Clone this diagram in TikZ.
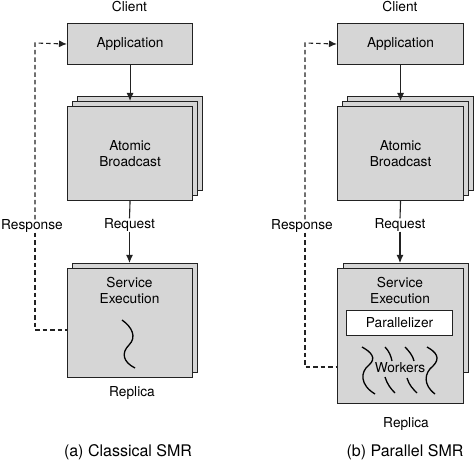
\documentclass[tikz,border=0pt]{standalone}
\usepackage{fontspec}
\setmainfont{TeX Gyre Heros}
\usetikzlibrary{arrows.meta}
\definecolor{boxgray}{HTML}{D6D6D6}
\definecolor{edge}{HTML}{222222}
\begin{document}
\begin{tikzpicture}[x=1pt,y=-1pt,
  box/.style={draw=edge,line width=1.1pt,fill=boxgray,inner sep=0pt,anchor=north west,
    font=\fontsize{13.7}{16}\selectfont,align=center},
  lbl/.style={font=\fontsize{13.7}{16}\selectfont,inner sep=0pt,align=center},
  captext/.style={font=\fontsize{16}{19}\selectfont,inner sep=0pt},
  conn/.style={line width=1.1pt,draw=edge},
  tip/.style={-{Latex[length=8pt,width=7pt]}},
  arr/.style={conn,tip},
  resp/.style={conn,dash pattern=on 4.5pt off 3pt},
  wave/.style={line width=1.3pt,draw=black}
]
\useasboundingbox (0,0) rectangle (474,462);

% ---------------- (a) Classical SMR ----------------
\node[lbl] (client1) at (129.5,7) {Client};
\node[box,minimum width=125pt,minimum height=41pt] (app1) at (67,23) {Application};
\node[box,minimum width=125pt,minimum height=94pt] (ab1c) at (77,96) {};
\node[box,minimum width=125pt,minimum height=94pt] (ab1b) at (72,101) {};
\node[box,minimum width=125pt,minimum height=94pt] (ab1) at (67,106) {Atomic\\Broadcast};
\node[lbl] (req1) at (129.5,225) {Request};
\node[box,minimum width=125pt,minimum height=109pt] (se1b) at (72,263) {};
\node[box,minimum width=125pt,minimum height=109pt] (se1) at (67,268) {};
\node[lbl] (set1) at (129.5,290) {Service\\Execution};
\draw[wave] (122,320) .. controls (132,327) and (137,337) .. (129,345)
  .. controls (121,353) and (123,362) .. (135,368);
\node[lbl] (rep1) at (132,393) {Replica};
\node[captext] (cap1) at (128,452) {(a) Classical SMR};
\node[lbl] (resp1) at (32,226) {Response};

\draw[arr] (app1.south) -- (app1.south |- ab1b.north);
\draw[conn] (ab1.south) -- (req1.north);
\draw[arr] (req1.south) -- (req1.south |- se1b.north);
\coordinate (r1a) at (35,43);
\coordinate (r1b) at (35,330);
\draw[resp,tip] (resp1.north -| r1a) -- (r1a) -- (app1.west);
\draw[resp] (resp1.south -| r1b) -- (r1b) -- (r1b -| se1.west);

% ---------------- (b) Parallel SMR ----------------
\node[lbl] (client2) at (400,7) {Client};
\node[box,minimum width=126pt,minimum height=41pt] (app2) at (337,23) {Application};
\node[box,minimum width=126pt,minimum height=94pt] (ab2c) at (347,96) {};
\node[box,minimum width=126pt,minimum height=94pt] (ab2b) at (342,101) {};
\node[box,minimum width=126pt,minimum height=94pt] (ab2) at (337,106) {Atomic\\Broadcast};
\node[lbl] (req2) at (400,225) {Request};
\node[box,minimum width=125pt,minimum height=109pt] (se2b) at (343,263) {};
\node[box,minimum width=126pt,minimum height=135pt] (se2) at (337,268) {};
\node[lbl] (set2) at (400,290) {Service\\Execution};
\node[box,fill=white,minimum width=106pt,minimum height=25pt] (par) at (346,310) {Parallelizer};
\draw[wave] (362,347) .. controls (371,352) and (377,358) .. (369,365)
  .. controls (360,372) and (360,385) .. (375,394);
\draw[wave] (385,347) .. controls (389,351) and (391,356) .. (392,361);
\draw[wave] (385,377) .. controls (387,384) and (391,389) .. (395,393);
\draw[wave] (405,347) .. controls (409,351) and (413,356) .. (414,361);
\draw[wave] (407,378) .. controls (409,385) and (413,389) .. (417,393);
\draw[wave] (427,347) .. controls (436,352) and (441,358) .. (433,366)
  .. controls (424,373) and (423,385) .. (435,394);
\node[lbl] (work) at (400,368) {Workers};
\node[lbl] (rep2) at (406,424) {Replica};
\node[captext] (cap2) at (405,452) {(b) Parallel SMR};
\node[lbl] (resp2) at (302,226) {Response};

\draw[arr] (app2.south) -- (app2.south |- ab2b.north);
\draw[conn] (ab2.south) -- (req2.north);
\draw[arr] (req2.south) -- (req2.south |- se2b.north);
\coordinate (r2a) at (305,43);
\coordinate (r2b) at (305,367);
\draw[resp,tip] (resp2.north -| r2a) -- (r2a) -- (app2.west);
\draw[resp] (resp2.south -| r2b) -- (r2b) -- (r2b -| se2.west);
\end{tikzpicture}
\end{document}
